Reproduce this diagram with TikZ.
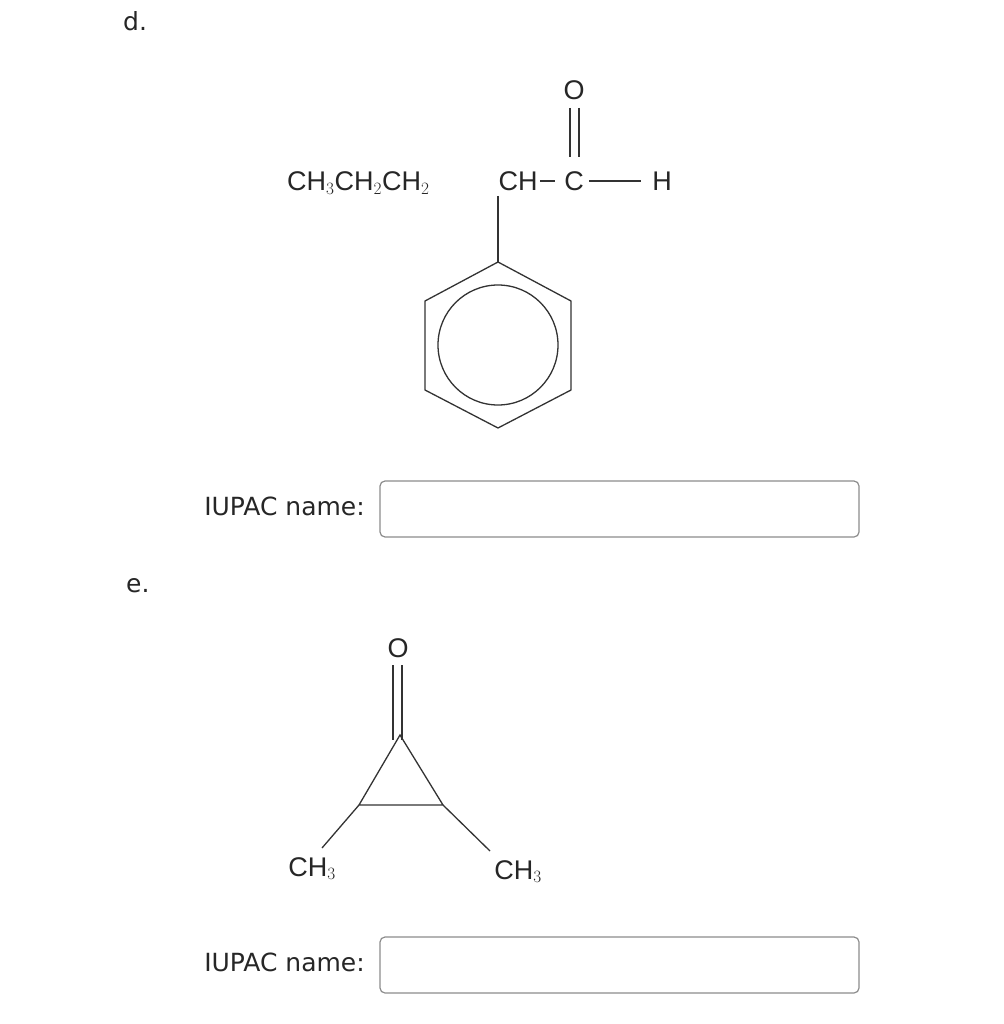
\documentclass[tikz,border=0pt]{standalone}
\usepackage{fontspec}
\setmainfont{Liberation Sans}
\newfontfamily\lab{DejaVu Sans}
\begin{document}
\begin{tikzpicture}[x=1pt,y=-1pt,
  bond/.style={line width=1.3pt,draw=black!80},
  chem/.style={font=\fontsize{27}{30}\selectfont,inner sep=0pt,text=black!85},
  labtxt/.style={font=\lab\fontsize{25}{28}\selectfont,inner sep=0pt,text=black!85},
  ansbox/.style={draw=black!45,line width=1.2pt,rounded corners=5pt}]
\useasboundingbox (0,0) rectangle (1003,1024);
\node[labtxt,anchor=base west] (d) at (123,31) {d.};
\node[labtxt,anchor=base west] (e) at (126,592) {e.};
% d
\node[chem,anchor=base west] (chain) at (287,191) {CH$_3$CH$_2$CH$_2$};
\node[chem,anchor=base] (ch) at (518,191) {CH};
\node[chem,anchor=base] (c) at (574,191) {C};
\node[chem,anchor=base] (h) at (662,191) {H};
\node[chem] (o) at (574,90) {O};
\draw[bond] (540,181) -- (555,181);
\draw[bond] (589,181) -- (641,181);
\draw[bond] (570,108) -- (570,157);
\draw[bond] (579,108) -- (579,157);
\coordinate (r1) at (498,262);
\coordinate (r2) at (571,301);
\coordinate (r3) at (571,390);
\coordinate (r4) at (498,428);
\coordinate (r5) at (425,390);
\coordinate (r6) at (425,301);
\draw[bond] (498,196) -- (r1);
\draw[bond] (r1)--(r2)--(r3)--(r4)--(r5)--(r6)--cycle;
\draw[bond] (498,345) circle (60);
\node[labtxt,anchor=base east] (l1) at (365,515) {IUPAC name:};
\draw[ansbox] (380,481) rectangle (859,537);
% e
\node[chem] (o2) at (398,648) {O};
\coordinate (a) at (400,735);
\coordinate (bl) at (359,805);
\coordinate (br) at (443,805);
\draw[bond] (393,665) -- (393,740);
\draw[bond] (402,665) -- (402,740);
\draw[bond] (a)--(bl)--(br)--cycle;
\node[chem,anchor=base] (m1) at (312,876) {CH$_3$};
\node[chem,anchor=base] (m2) at (518,879) {CH$_3$};
\draw[bond] (bl) -- (322,848);
\draw[bond] (br) -- (490,851);
\node[labtxt,anchor=base east] (l2) at (365,971) {IUPAC name:};
\draw[ansbox] (380,937) rectangle (859,993);
\end{tikzpicture}
\end{document}
